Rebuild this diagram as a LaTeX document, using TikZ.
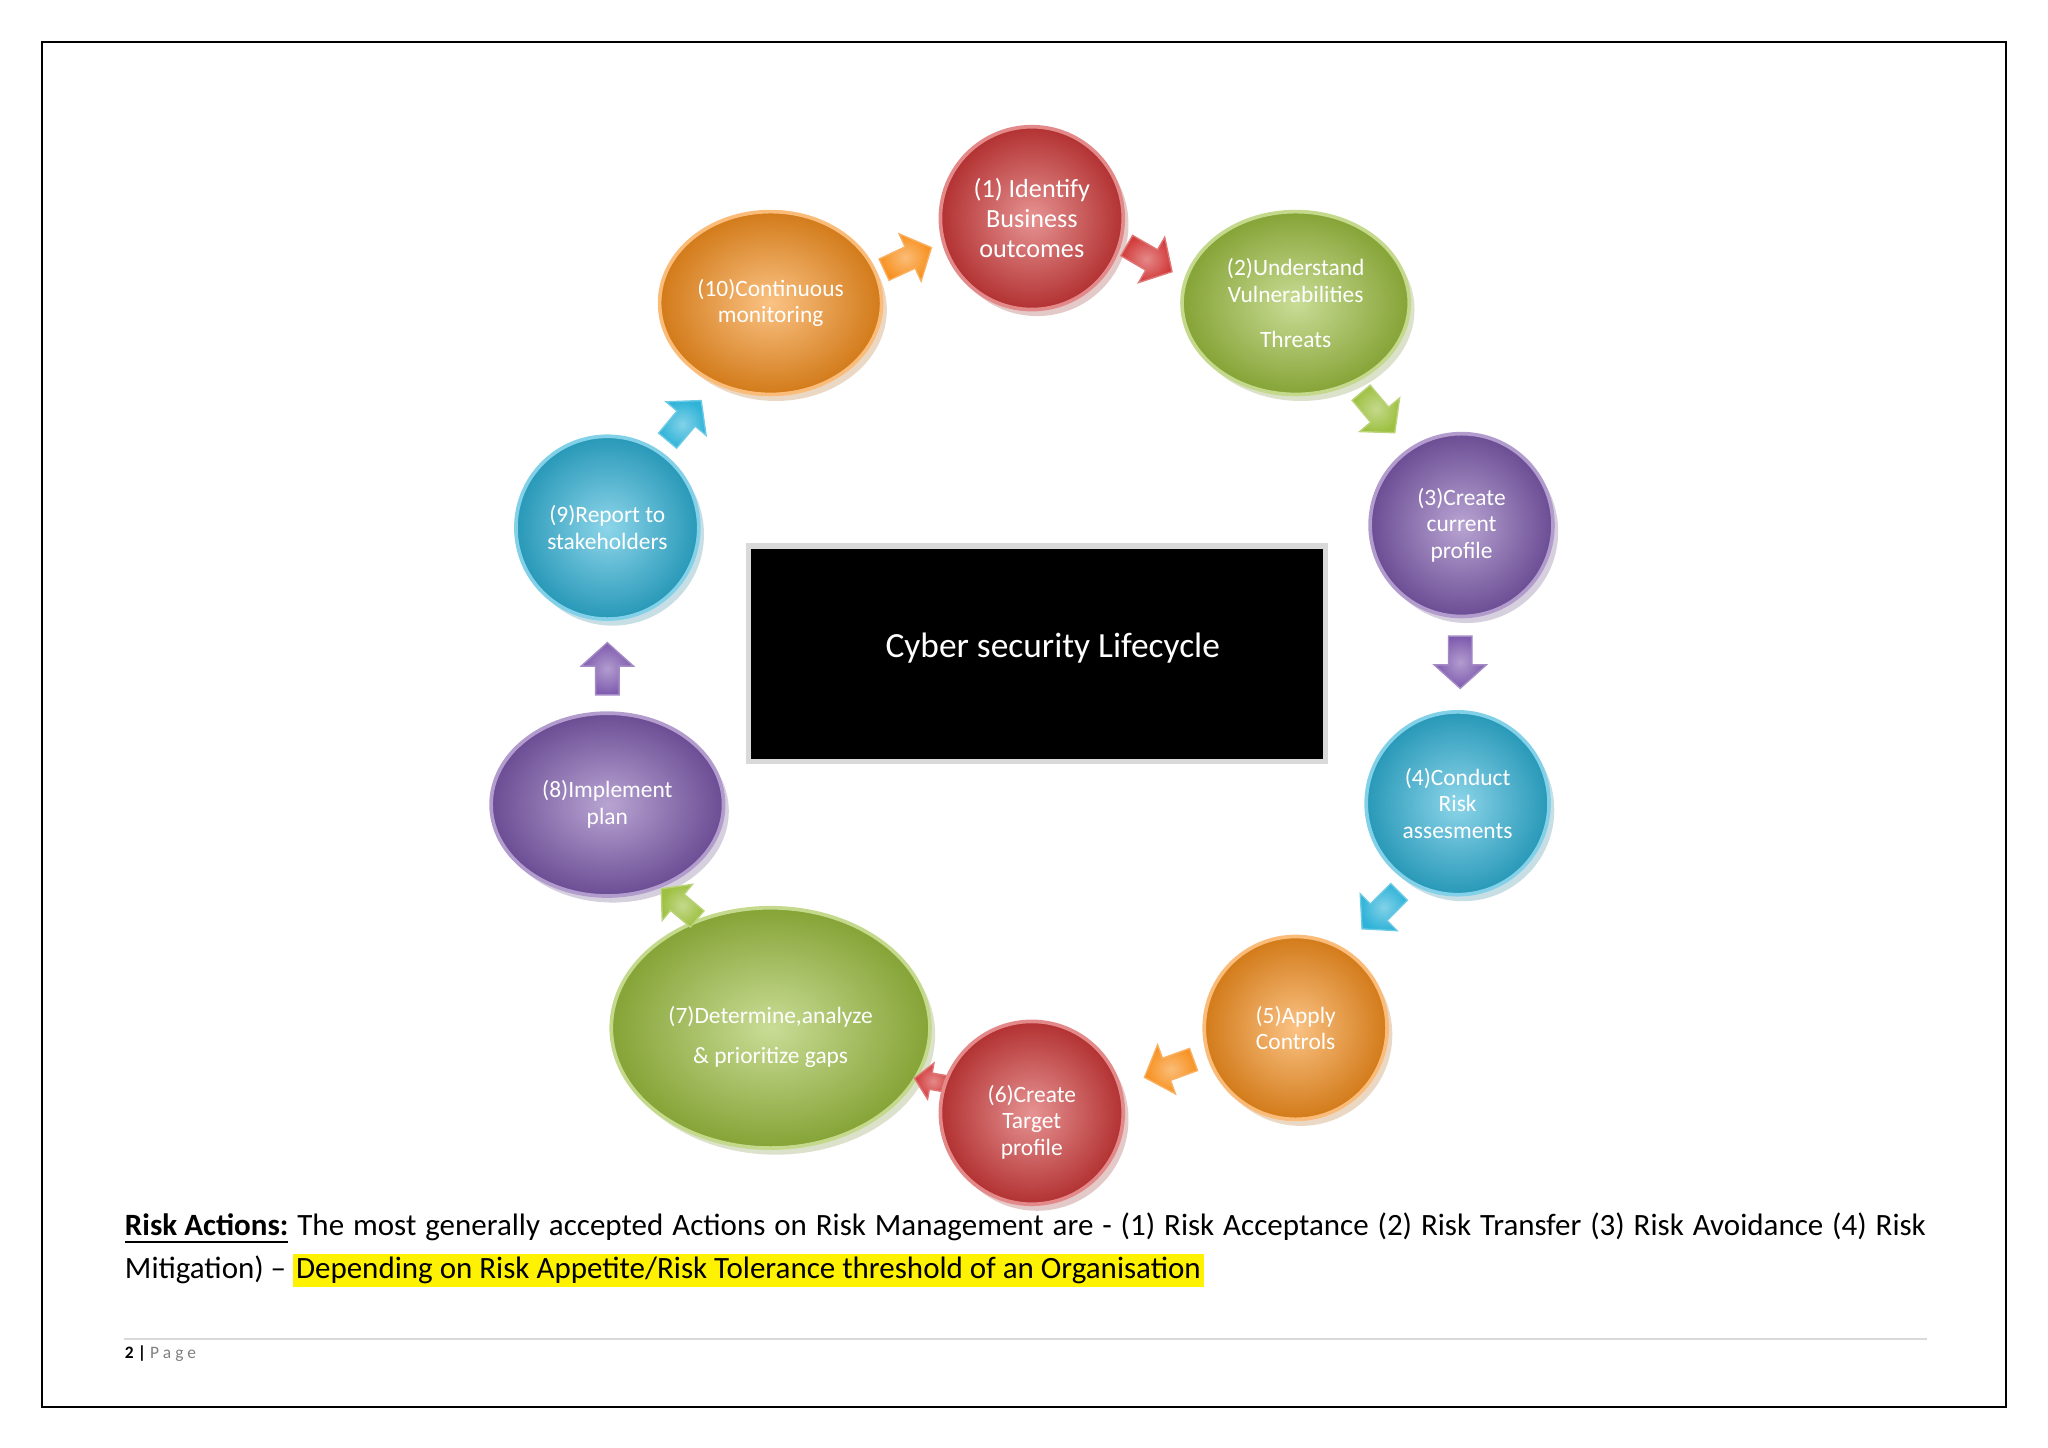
\documentclass[tikz,border=0pt]{standalone}
\usepackage{fontspec}
\setmainfont{Carlito}
\usepackage{xcolor}
\definecolor{cred}{HTML}{D23A3A}
\definecolor{cgreen}{HTML}{9DC040}
\definecolor{cpurple}{HTML}{7E5AAE}
\definecolor{ccyan}{HTML}{2FB3D8}
\definecolor{corange}{HTML}{F7901E}
\begin{document}
\begin{tikzpicture}[x=0.01cm,y=0.01cm]
\useasboundingbox (0,0) rectangle (1568,-1108);
\draw[line width=0.35pt] (32,-32) rectangle (1536,-1077);
\newcommand{\orb}[6]{% name, x, y, rx, ry, color
  \fill[#6!70!black, opacity=0.25] (#2+4,-#3-5) ellipse ({#4} and {#5});
  \shade[inner color=#6!55!white, outer color=#6!85!black, draw=#6!60!white, line width=0.8pt] (#2,-#3) ellipse ({#4} and {#5});
  \coordinate (#1) at (#2,-#3);}
\newcommand{\barrow}[5]{% x,y,angle,color,scale
  \begin{scope}[shift={(#1,-#2)}, rotate=#3, scale=#5]
  \shade[inner color=#4!60!white, outer color=#4, draw=#4!70!white, line width=0.3pt]
   (-20,-9) -- (2,-9) -- (2,-20) -- (20,0) -- (2,20) -- (2,9) -- (-20,9) -- cycle;
  \end{scope}}
\orb{n1}{790}{167}{70}{70}{cred}
\orb{n2}{992}{232}{87}{70}{cgreen}
\orb{n3}{1119}{402}{70}{70}{cpurple}
\orb{n4}{1116}{615}{70}{70}{ccyan}
\orb{n5}{992}{787}{70}{70}{corange}
\orb{n7}{590}{787}{122}{92}{cgreen}
\barrow{714}{828}{170}{cred}{0.7}
\orb{n6}{790}{852}{70}{70}{cred}
\orb{n8}{465}{616}{89}{70}{cpurple}
\orb{n9}{465}{404}{70}{70}{ccyan}
\orb{n10}{590}{232}{85}{70}{corange}
\tikzset{lbl/.style={align=center, text=white, font=\fontsize{5.1}{5.8}\selectfont}}
\node[lbl, font=\fontsize{5.7}{6.6}\selectfont] (t1) at (n1) {(1) Identify\\Business\\outcomes};
\node[lbl] (t2) at (n2) {(2)Understand\\Vulnerabilities\\[4pt]Threats};
\node[lbl] (t3) at (n3) {(3)Create\\current\\profile};
\node[lbl] (t4) at (n4) {(4)Conduct\\Risk\\assesments};
\node[lbl] (t5) at (n5) {(5)Apply\\Controls};
\node[lbl] (t6) at ([yshift=-2]n6) {(6)Create\\Target\\profile};
\node[lbl] (t7) at ([yshift=-2]n7) {(7)Determine,analyze\\[3pt]\& prioritize gaps};
\node[lbl] (t8) at (n8) {(8)Implement\\plan};
\node[lbl] (t9) at (n9) {(9)Report to\\stakeholders};
\node[lbl] (t10) at (n10) {(10)Continuous\\monitoring};
\barrow{695}{198}{25}{corange}{1}
\barrow{880}{198}{-30}{cred}{1}
\barrow{1055}{316}{-50}{cgreen}{1}
\barrow{1118}{507}{-90}{cpurple}{1}
\barrow{1057}{697}{-135}{ccyan}{1}
\barrow{895}{818}{200}{corange}{1}
\barrow{520}{692}{140}{cgreen}{0.9}
\barrow{465}{512}{90}{cpurple}{1}
\barrow{524}{322}{50}{ccyan}{1}
\draw[fill=black, draw=gray!30, line width=1.2pt] (573,-418) rectangle (1015,-583);
\node[text=white, font=\fontsize{7.7}{9}\selectfont] (title) at (806,-496) {Cyber security Lifecycle};
\node[anchor=base west, inner sep=0pt, font=\fontsize{6.75}{7.5}\selectfont] (p1) at (95,-946)
 {\makebox[13.78cm][s]{\textbf{\underline{Risk Actions:}} The most generally accepted Actions on Risk Management are - (1) Risk Acceptance (2) Risk Transfer (3) Risk Avoidance (4) Risk}};
\node[anchor=base west, inner sep=0pt, font=\fontsize{6.75}{7.5}\selectfont] (p2) at (95,-979)
 {Mitigation) -- {\setlength{\fboxsep}{0.6pt}\colorbox{yellow}{Depending on Risk Appetite/Risk Tolerance threshold of an Organisation}}};
\draw[gray!30, line width=0.4pt] (95,-1025) -- (1475,-1025);
\node[anchor=base west, inner sep=0pt, font=\fontsize{3.8}{4}\selectfont] (pg) at (95,-1040) {\textbf{2 |} \textcolor{gray}{P a g e}};
\end{tikzpicture}
\end{document}
